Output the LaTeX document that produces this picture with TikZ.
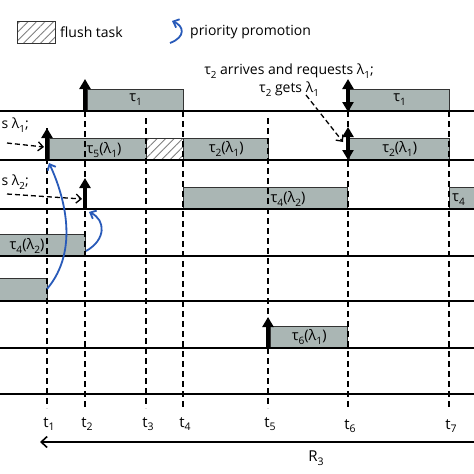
\documentclass[tikz,border=0pt]{standalone}
\usepackage{fontspec}
\setmainfont{Open Sans}
\usetikzlibrary{arrows.meta,patterns.meta}
\definecolor{boxfill}{RGB}{170,182,180}
\definecolor{promo}{RGB}{40,90,185}
\newcommand{\sbs}[1]{\raisebox{-0.45ex}{\scalebox{0.7}{#1}}}
\begin{document}
\begin{tikzpicture}[x=1pt,y=-1pt,
  lab/.style={font=\fontsize{14}{16}\selectfont,inner sep=0pt},
  tlab/.style={font=\fontsize{15}{17}\selectfont,inner sep=0pt},
  rowline/.style={line width=1.8pt},
  taskbox/.style={draw=black!80,line width=1.3pt,fill=boxfill,anchor=south west,minimum height=21pt,inner sep=0pt,font=\fontsize{14.5}{16}\selectfont},
  flushbox/.style={draw=black!80,line width=1.3pt,pattern={Lines[angle=45,distance=6pt,line width=0.9pt]},pattern color=black!50,inner sep=0pt},
  vdash/.style={line width=1.5pt,dash pattern=on 6pt off 4pt},
  bigarrow/.style={line width=3.6pt,-{Triangle[width=11pt,length=10pt]}},
  dblarrow/.style={line width=3.6pt,{Triangle[width=11pt,length=10pt]}-{Triangle[width=11pt,length=10pt]}},
  notearrow/.style={line width=1.3pt,dash pattern=on 5pt off 3pt,-{Straight Barb[length=5pt,width=9pt]}},
  promoarrow/.style={draw=promo,line width=1.8pt,-{Straight Barb[length=5pt,width=9pt]}},
  rarrow/.style={line width=1.6pt,-{Straight Barb[length=6pt,width=11pt]}}
]
\useasboundingbox (0,0) rectangle (474,474);
\clip (0,0) rectangle (474,474);
\fill[white] (0,0) rectangle (474,474);

% legend
\node[flushbox,minimum width=38pt,minimum height=22pt,anchor=north west] (lg1) at (17,21) {};
\node[lab,anchor=west] (lg1t) at (60,32) {flush task};
\coordinate (pi0) at (170,43);
\coordinate (pi1) at (172,21);
\draw[promoarrow] (pi0) .. controls (186,37) and (184,26) .. (pi1);
\node[lab,anchor=west] (lg2t) at (190,32) {priority promotion};

% row lines
\foreach \n/\y in {1/111,2/160,3/209,4/256,5/301,6/348,7/394}{
  \coordinate (L\n a) at (0,\y);
  \coordinate (L\n b) at (474,\y);
}

% boxes
\node[taskbox,minimum width=96pt] (b1a) at (87,111) {τ\sbs{1}};
\node[taskbox,minimum width=100pt] (b1b) at (349,111) {τ\sbs{1}};
\node[taskbox,minimum width=97pt] (b2a) at (49,160) {};
\node[lab,font=\fontsize{14.5}{16}\selectfont] (b2at) at (104,150) {τ\sbs{5}(λ\sbs{1})};
\node[flushbox,minimum width=37pt,minimum height=21pt,anchor=south west] (b2f) at (146,160) {};
\node[taskbox,minimum width=85pt] (b2b) at (183,160) {τ\sbs{2}(λ\sbs{1})};
\node[taskbox,minimum width=100pt] (b2c) at (349,160) {τ\sbs{2}(λ\sbs{1})};
\node[taskbox,minimum width=164pt] (b3a) at (183,209) {};
\node[lab,font=\fontsize{14.5}{16}\selectfont] (b3at) at (288,199) {τ\sbs{4}(λ\sbs{2})};
\node[taskbox,minimum width=40pt] (b3b) at (449,209) {};
\node[lab,anchor=west,font=\fontsize{14.5}{16}\selectfont] (b3bt) at (452,199.5) {τ\sbs{4}};
\node[taskbox,minimum width=92pt] (b4) at (-7,256) {};
\node[lab,font=\fontsize{14.5}{16}\selectfont] (b4t) at (27,246) {τ\sbs{4}(λ\sbs{2})};
\node[taskbox,minimum width=54pt,minimum height=22pt] (b5) at (-7,301) {};
\node[taskbox,minimum width=77pt] (b6) at (270,348) {τ\sbs{6}(λ\sbs{1})};

\foreach \n in {1,...,7}{\draw[rowline] (L\n a) -- (L\n b);}

% dashed time lines
\foreach \n/\x/\ya in {1/47/128,2/85/111,3/146/118,4/183/111,5/268/118,6/348/111,7/449/111}{
  \coordinate (T\n a) at (\x,\ya);
  \coordinate (T\n b) at (\x,408);
  \draw[vdash] (T\n a) -- (T\n b);
}

% time labels
\node[tlab] (lt1) at (49,424) {t\sbs{1}};
\node[tlab] (lt2) at (87,424) {t\sbs{2}};
\node[tlab] (lt3) at (148,424) {t\sbs{3}};
\node[tlab] (lt4) at (185,424) {t\sbs{4}};
\node[tlab] (lt5) at (270,424) {t\sbs{5}};
\node[tlab] (lt6) at (350,426) {t\sbs{6}};
\node[tlab] (lt7) at (451,426) {t\sbs{7}};

% release arrows
\coordinate (a1s) at (85,111); \coordinate (a1e) at (85,79);
\draw[bigarrow] (a1s) -- (a1e);
\coordinate (a2s) at (47,160); \coordinate (a2e) at (47,128);
\draw[bigarrow] (a2s) -- (a2e);
\coordinate (a3s) at (85,209); \coordinate (a3e) at (85,178);
\draw[bigarrow] (a3s) -- (a3e);
\coordinate (a4s) at (268,348); \coordinate (a4e) at (268,317);
\draw[bigarrow] (a4s) -- (a4e);
\coordinate (d1s) at (348,79); \coordinate (d1e) at (348,112);
\draw[dblarrow] (d1s) -- (d1e);
\coordinate (d2s) at (348,127); \coordinate (d2e) at (348,160);
\draw[dblarrow] (d2s) -- (d2e);

% annotations
\node[lab] (n1) at (289,71) {τ\sbs{2} arrives and requests λ\sbs{1};};
\node[lab] (n2) at (289,89) {τ\sbs{2} gets λ\sbs{1}};
\coordinate (n2s) at (306,95); \coordinate (n2e) at (343,142);
\draw[notearrow] (n2s) -- (n2e);
\node[lab,anchor=east] (n3) at (29,125) {s λ\sbs{1};};
\coordinate (n3s) at (7,143); \coordinate (n3e) at (44,147);
\draw[notearrow] (n3s) -- (n3e);
\node[lab,anchor=east] (n4) at (29,182) {s λ\sbs{2};};
\coordinate (n4s) at (7,194); \coordinate (n4e) at (82,199);
\draw[notearrow] (n4s) -- (n4e);

% priority promotion curves
\coordinate (p1s) at (47,289); \coordinate (p1e) at (49,163);
\draw[promoarrow] (p1s) .. controls (80,250) and (64,195) .. (p1e);
\coordinate (p2s) at (86,251); \coordinate (p2e) at (89,212);
\draw[promoarrow] (p2s) .. controls (106,240) and (106,220) .. (p2e);

% R3
\coordinate (r3s) at (474,442); \coordinate (r3e) at (40,442);
\draw[rarrow] (r3s) -- (r3e);
\node[tlab] (r3) at (316,458) {R\sbs{3}};
\end{tikzpicture}
\end{document}
